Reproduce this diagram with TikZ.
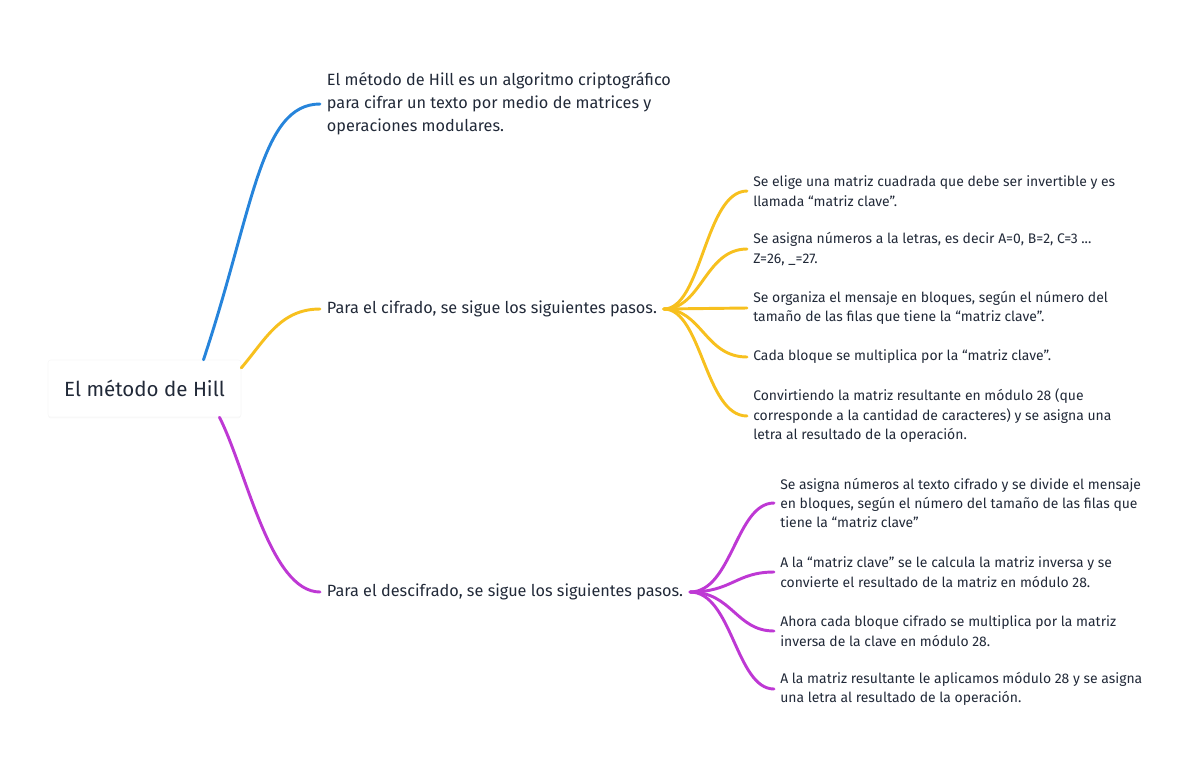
\documentclass[tikz,border=0pt]{standalone}
\usepackage{fontspec}
\setmainfont{Fira Sans}
\usetikzlibrary{shadows}
\definecolor{hillink}{RGB}{33,41,56}
\definecolor{hillblue}{RGB}{38,132,219}
\definecolor{hillyellow}{RGB}{247,192,30}
\definecolor{hillpurple}{RGB}{190,56,212}
\tikzset{
  rootbox/.style={fill=white,draw=black!3,rounded corners=2pt,
    minimum width=144.75pt,minimum height=42.75pt,inner sep=0pt,
    font=\fontsize{15.4}{18}\selectfont,text=hillink,
    drop shadow={opacity=0.06,shadow xshift=0pt,shadow yshift=-1pt}},
  topic/.style={anchor=west,align=left,inner xsep=5pt,inner ysep=0pt,
    font=\fontsize{12.2}{17.25}\selectfont,text=hillink},
  leaf/.style={anchor=west,align=left,inner xsep=4.5pt,inner ysep=0pt,
    font=\fontsize{10.45}{14.6}\selectfont,text=hillink},
  branch/.style={line width=2.2pt,line cap=round}
}
\begin{document}
\begin{tikzpicture}[x=0.75pt,y=-0.75pt]
  \useasboundingbox (0,0) rectangle (1200,776);
  \node[rootbox] (root) at (144.5,388.5) {El método de Hill};
  \node[topic] (intro) at (320,104) {El método de Hill es un algoritmo criptográfico\\para cifrar un texto por medio de matrices y\\operaciones modulares.};
  \node[topic] (cifrado) at (320,309) {Para el cifrado, se sigue los siguientes pasos.};
  \node[topic] (descifrado) at (320,592) {Para el descifrado, se sigue los siguientes pasos.};

  \node[leaf] (c1) at (747,191) {Se elige una matriz cuadrada que debe ser invertible y es\\llamada “matriz clave”.};
  \node[leaf] (c2) at (747,249) {Se asigna números a la letras, es decir A=0, B=2, C=3 ...\\Z=26, \_=27.};
  \node[leaf] (c3) at (747,308) {Se organiza el mensaje en bloques, según el número del\\tamaño de las filas que tiene la “matriz clave”.};
  \node[leaf] (c4) at (747,357) {Cada bloque se multiplica por la “matriz clave”.};
  \node[leaf] (c5) at (747,416) {Convirtiendo la matriz resultante en módulo 28 (que\\corresponde a la cantidad de caracteres) y se asigna una\\letra al resultado de la operación.};

  \node[leaf] (d1) at (774,503) {Se asigna números al texto cifrado y se divide el mensaje\\en bloques, según el número del tamaño de las filas que\\tiene la “matriz clave”};
  \node[leaf] (d2) at (774,572) {A la “matriz clave” se le calcula la matriz inversa y se\\convierte el resultado de la matriz en módulo 28.};
  \node[leaf] (d3) at (774,631) {Ahora cada bloque cifrado se multiplica por la matriz\\inversa de la clave en módulo 28.};
  \node[leaf] (d4) at (774,689) {A la matriz resultante le aplicamos módulo 28 y se asigna\\una letra al resultado de la operación.};

  \draw[branch,hillblue] (root.26) .. controls +(50,-150) and +(-60,0) .. (intro.west);
  \draw[branch,hillyellow] (root.12) .. controls +(24,-28) and +(-40,0) .. (cifrado.west);
  \draw[branch,hillpurple] (root.-21) .. controls +(27,53) and +(-50,0) .. (descifrado.west);

  \draw[branch,hillyellow] (cifrado.east) .. controls +(38,0) and +(-42,0) .. (c1.west);
  \draw[branch,hillyellow] (cifrado.east) .. controls +(38,0) and +(-42,0) .. (c2.west);
  \draw[branch,hillyellow] (cifrado.east) -- (c3.west);
  \draw[branch,hillyellow] (cifrado.east) .. controls +(38,0) and +(-42,0) .. (c4.west);
  \draw[branch,hillyellow] (cifrado.east) .. controls +(38,0) and +(-42,0) .. (c5.west);

  \draw[branch,hillpurple] (descifrado.east) .. controls +(42,0) and +(-38,0) .. (d1.west);
  \draw[branch,hillpurple] (descifrado.east) .. controls +(42,0) and +(-38,0) .. (d2.west);
  \draw[branch,hillpurple] (descifrado.east) .. controls +(42,0) and +(-38,0) .. (d3.west);
  \draw[branch,hillpurple] (descifrado.east) .. controls +(42,0) and +(-38,0) .. (d4.west);
\end{tikzpicture}
\end{document}
